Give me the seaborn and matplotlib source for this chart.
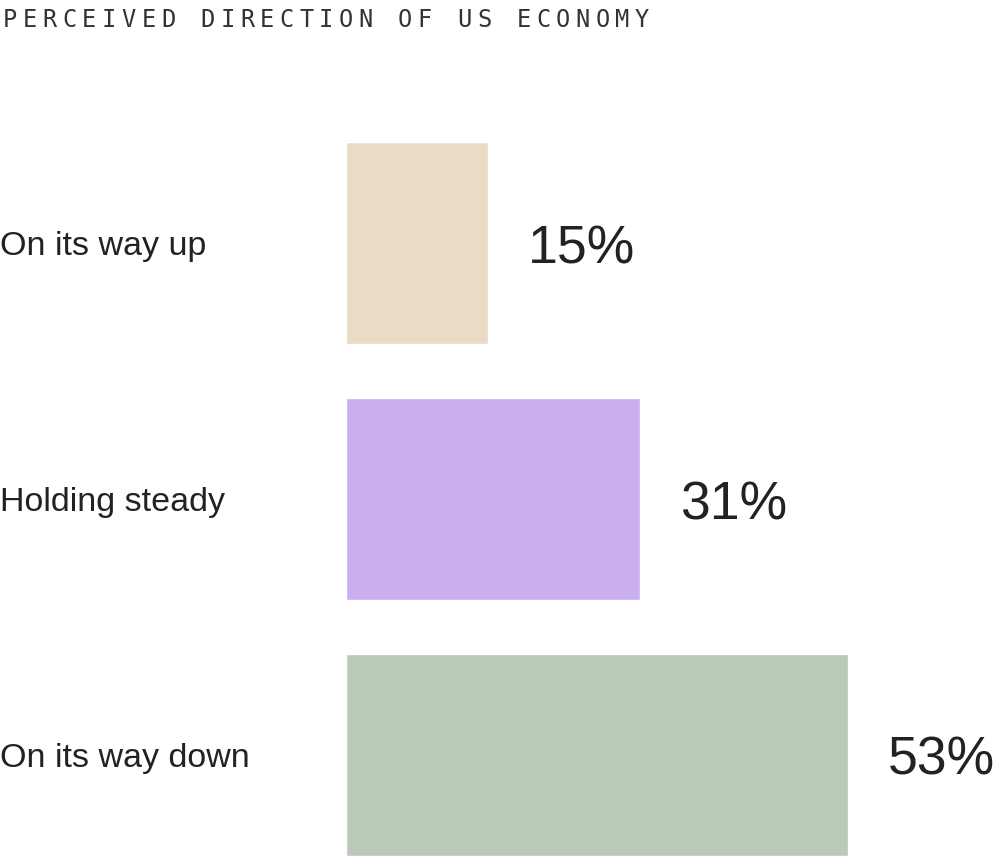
import matplotlib
matplotlib.use("Agg")
import matplotlib.pyplot as plt
import seaborn as sns
import pandas as pd

categories = ["On its way up", "Holding steady", "On its way down"]
values = [15, 31, 53]
colors = ["#e8dcc5", "#c9aff0", "#bbc9b8"]
title = "PERCEIVED DIRECTION OF US ECONOMY"

df = pd.DataFrame({"cat": categories, "val": values})

sns.set_style("white")
plt.rcParams['font.family'] = ['Liberation Sans', 'DejaVu Sans']

fig = plt.figure(figsize=(10, 8.56), dpi=100)
ax = fig.add_axes([0.346, 0.0, 0.654, 1 - 115 / 856])

sns.barplot(data=df, x="val", y="cat", hue="cat", palette=colors,
            width=0.79, legend=False, ax=ax, saturation=1)

ax.set_xlim(0, 69)
ax.set_ylim(2 + (856 - 754.5) / 256, -0.5)
ax.axis("off")

for i, (c, v) in enumerate(zip(categories, values)):
    ax.text(v + 4.2, i + 0.025, f"{v}%", fontsize=38.5, va="center",
            ha="left", color="#222222")
    fig.text(0.0, 1 - (246 + 256 * i) / 856, c, fontsize=24.5,
             va="center", ha="left", color="#222222")

# letter-spaced monospace title
for k, ch in enumerate(title):
    fig.text((3 + 19.75 * k) / 1000, 1 - 20 / 856, ch,
             family="DejaVu Sans Mono", fontsize=17, va="center",
             ha="left", color="#333333")

fig.savefig("out.png", dpi=100)
